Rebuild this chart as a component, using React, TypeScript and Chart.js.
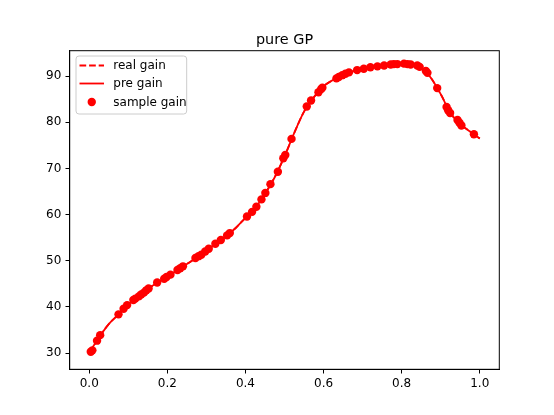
import React, { useEffect, useRef } from "react";
import { Chart, registerables } from "chart.js";

Chart.register(...registerables);

const titleText = "pure GP";
const legendLabels = ["real gain", "pre gain", "sample gain"];

const lineX = [
  0, 0.025, 0.05, 0.075, 0.1, 0.125, 0.15, 0.175, 0.2, 0.225, 0.25, 0.275, 0.3, 0.325, 0.35, 0.375,
  0.4, 0.425, 0.45, 0.475, 0.5, 0.525, 0.55, 0.575, 0.6, 0.625, 0.65, 0.675, 0.7, 0.725, 0.75, 0.775,
  0.8, 0.825, 0.85, 0.875, 0.9, 0.925, 0.95, 0.975, 1.0,
];
const realGainY = [
  30.1, 33.4, 36.3, 38.4, 40.6, 42.2, 43.9, 45.3, 46.6, 47.9, 49.3, 50.7, 52.2, 53.8, 55.3, 57.1,
  59.3, 61.4, 64.5, 68.1, 72.6, 77.7, 82.3, 85.4, 87.8, 89.2, 90.3, 91.0, 91.5, 91.9, 92.2, 92.5,
  92.7, 92.5, 91.9, 89.6, 86.1, 82.0, 79.6, 78.0, 76.5,
];
const preGainY = [
  30.1, 33.4, 36.3, 38.4, 40.6, 42.2, 43.9, 45.3, 46.6, 47.9, 49.3, 50.7, 52.2, 53.8, 55.3, 57.1,
  59.3, 61.4, 64.5, 68.1, 72.6, 77.7, 82.3, 85.4, 87.8, 89.2, 90.3, 91.0, 91.5, 91.9, 92.2, 92.5,
  92.7, 92.5, 91.9, 89.6, 86.1, 82.0, 79.6, 78.0, 76.5,
];

const sampleX = [
  0.004, 0.008, 0.02, 0.028, 0.075, 0.088, 0.097, 0.113, 0.118, 0.127, 0.133, 0.14, 0.146, 0.152,
  0.174, 0.192, 0.198, 0.208, 0.226, 0.233, 0.24, 0.272, 0.28, 0.287, 0.297, 0.306, 0.323, 0.337,
  0.353, 0.36, 0.404, 0.417, 0.428, 0.441, 0.451, 0.464, 0.483, 0.497, 0.502, 0.518, 0.557, 0.568,
  0.587, 0.594, 0.597, 0.633, 0.639, 0.648, 0.656, 0.665, 0.686, 0.703, 0.72, 0.738, 0.755, 0.772,
  0.78, 0.789, 0.806, 0.815, 0.823, 0.84, 0.846, 0.862, 0.866, 0.891, 0.915, 0.919, 0.924, 0.943,
  0.948, 0.953, 0.985,
];
const sampleY = [
  30.3, 30.6, 32.7, 33.9, 38.4, 39.6, 40.4, 41.5, 41.8, 42.3, 42.7, 43.1, 43.6, 44.0,
  45.3, 46.1, 46.5, 47.0, 48.0, 48.4, 48.8, 50.6, 51.0, 51.3, 52.0, 52.6, 53.7, 54.5,
  55.5, 56.0, 59.6, 60.6, 61.7, 63.3, 64.7, 66.6, 69.3, 72.2, 72.9, 76.4, 83.4, 84.7,
  86.5, 87.2, 87.5, 89.5, 89.8, 90.2, 90.5, 90.8, 91.3, 91.6, 91.9, 92.1, 92.3, 92.5,
  92.6, 92.6, 92.7, 92.6, 92.5, 92.3, 92.0, 91.1, 90.7, 87.4, 83.3, 82.6, 82.0, 80.5,
  79.9, 79.3, 77.4,
];

const xTicks = [0.0, 0.2, 0.4, 0.6, 0.8, 1.0];
const yTicks = [30, 40, 50, 60, 70, 80, 90];

const W = 554;
const H = 415;
const AREA = { left: 69.7, right: 499.3, top: 50.7, bottom: 369.3 };
const FONT = "'DejaVu Sans', 'Liberation Sans', sans-serif";

const framePlugin = {
  id: "frameLegend",
  afterDraw(chart: any) {
    const { ctx, chartArea: a } = chart;
    ctx.save();
    ctx.strokeStyle = "#000";
    ctx.lineWidth = 1;
    ctx.strokeRect(a.left, a.top, a.right - a.left, a.bottom - a.top);

    // title
    ctx.fillStyle = "#000";
    ctx.font = `14.4px ${FONT}`;
    ctx.textAlign = "center";
    ctx.textBaseline = "alphabetic";
    ctx.fillText(titleText, (a.left + a.right) / 2, 44);

    // legend box
    const bx = 76, by = 56, bw = 110.7, bh = 58, r = 3;
    ctx.beginPath();
    ctx.moveTo(bx + r, by);
    ctx.lineTo(bx + bw - r, by);
    ctx.quadraticCurveTo(bx + bw, by, bx + bw, by + r);
    ctx.lineTo(bx + bw, by + bh - r);
    ctx.quadraticCurveTo(bx + bw, by + bh, bx + bw - r, by + bh);
    ctx.lineTo(bx + r, by + bh);
    ctx.quadraticCurveTo(bx, by + bh, bx, by + bh - r);
    ctx.lineTo(bx, by + r);
    ctx.quadraticCurveTo(bx, by, bx + r, by);
    ctx.closePath();
    ctx.fillStyle = "rgba(255,255,255,0.8)";
    ctx.fill();
    ctx.strokeStyle = "#cccccc";
    ctx.lineWidth = 1;
    ctx.stroke();

    const rows = [65.5, 83.5, 102];
    const x0 = 79.5, x1 = 104;
    ctx.strokeStyle = "#ff0000";
    ctx.lineWidth = 1.8;
    ctx.setLineDash([6.7, 2.9]);
    ctx.beginPath();
    ctx.moveTo(x0, rows[0]);
    ctx.lineTo(x1, rows[0]);
    ctx.stroke();
    ctx.setLineDash([]);
    ctx.beginPath();
    ctx.moveTo(x0, rows[1]);
    ctx.lineTo(x1, rows[1]);
    ctx.stroke();
    ctx.fillStyle = "#ff0000";
    ctx.beginPath();
    ctx.arc((x0 + x1) / 2, rows[2], 4.2, 0, Math.PI * 2);
    ctx.fill();

    ctx.fillStyle = "#000";
    ctx.font = `12px ${FONT}`;
    ctx.textBaseline = "middle";
    ctx.textAlign = "left";
    legendLabels.forEach((t, i) => ctx.fillText(t, 113.3, rows[i] + 0.5));
    ctx.restore();
  },
};

export default function App() {
  const ref = useRef<HTMLCanvasElement | null>(null);

  useEffect(() => {
    if (!ref.current) return;
    const chart = new Chart(ref.current, {
      type: "scatter",
      data: {
        datasets: [
          {
            label: legendLabels[0],
            data: lineX.map((x, i) => ({ x, y: realGainY[i] })),
            showLine: true,
            borderColor: "#ff0000",
            borderWidth: 1.8,
            borderDash: [6.7, 2.9],
            pointRadius: 0,
            cubicInterpolationMode: "monotone",
            order: 2,
          },
          {
            label: legendLabels[1],
            data: lineX.map((x, i) => ({ x, y: preGainY[i] })),
            showLine: true,
            borderColor: "#ff0000",
            borderWidth: 1.8,
            pointRadius: 0,
            cubicInterpolationMode: "monotone",
            order: 1,
          },
          {
            label: legendLabels[2],
            data: sampleX.map((x, i) => ({ x, y: sampleY[i] })),
            showLine: false,
            backgroundColor: "#ff0000",
            borderColor: "#ff0000",
            borderWidth: 0,
            pointRadius: 4.2,
            order: 0,
          },
        ] as any,
      },
      options: {
        responsive: false,
        animation: false,
        events: [],
        layout: { padding: { left: 0, right: W - AREA.right, top: AREA.top, bottom: 0 } },
        plugins: {
          legend: { display: false },
          tooltip: { enabled: false },
          title: { display: false },
        },
        scales: {
          x: {
            type: "linear",
            min: -0.05,
            max: 1.05,
            afterBuildTicks: (s: any) => {
              s.ticks = xTicks.map((v) => ({ value: v }));
            },
            afterFit: (s: any) => {
              s.height = H - AREA.bottom;
            },
            grid: { drawOnChartArea: false, drawTicks: true, tickLength: 4.2, color: "#000", lineWidth: 1 },
            border: { display: true, color: "#000", width: 1 },
            ticks: {
              color: "#000",
              font: { family: FONT, size: 12 },
              padding: 3,
              maxRotation: 0,
              autoSkip: false,
              callback: (v: any) => Number(v).toFixed(1),
            },
          },
          y: {
            type: "linear",
            min: 26.5,
            max: 95.5,
            afterBuildTicks: (s: any) => {
              s.ticks = yTicks.map((v) => ({ value: v }));
            },
            afterFit: (s: any) => {
              s.width = AREA.left;
            },
            grid: { drawOnChartArea: false, drawTicks: true, tickLength: 4.2, color: "#000", lineWidth: 1 },
            border: { display: true, color: "#000", width: 1 },
            ticks: {
              color: "#000",
              font: { family: FONT, size: 12 },
              padding: 4.2,
              autoSkip: false,
              callback: (v: any) => String(v),
            },
          },
        },
      },
      plugins: [framePlugin],
    });
    return () => chart.destroy();
  }, []);

  return (
    <div style={{ position: "absolute", left: 0, top: 0, width: W, height: H, background: "#fff" }}>
      <canvas ref={ref} width={W} height={H} style={{ width: W, height: H, display: "block" }} />
    </div>
  );
}
